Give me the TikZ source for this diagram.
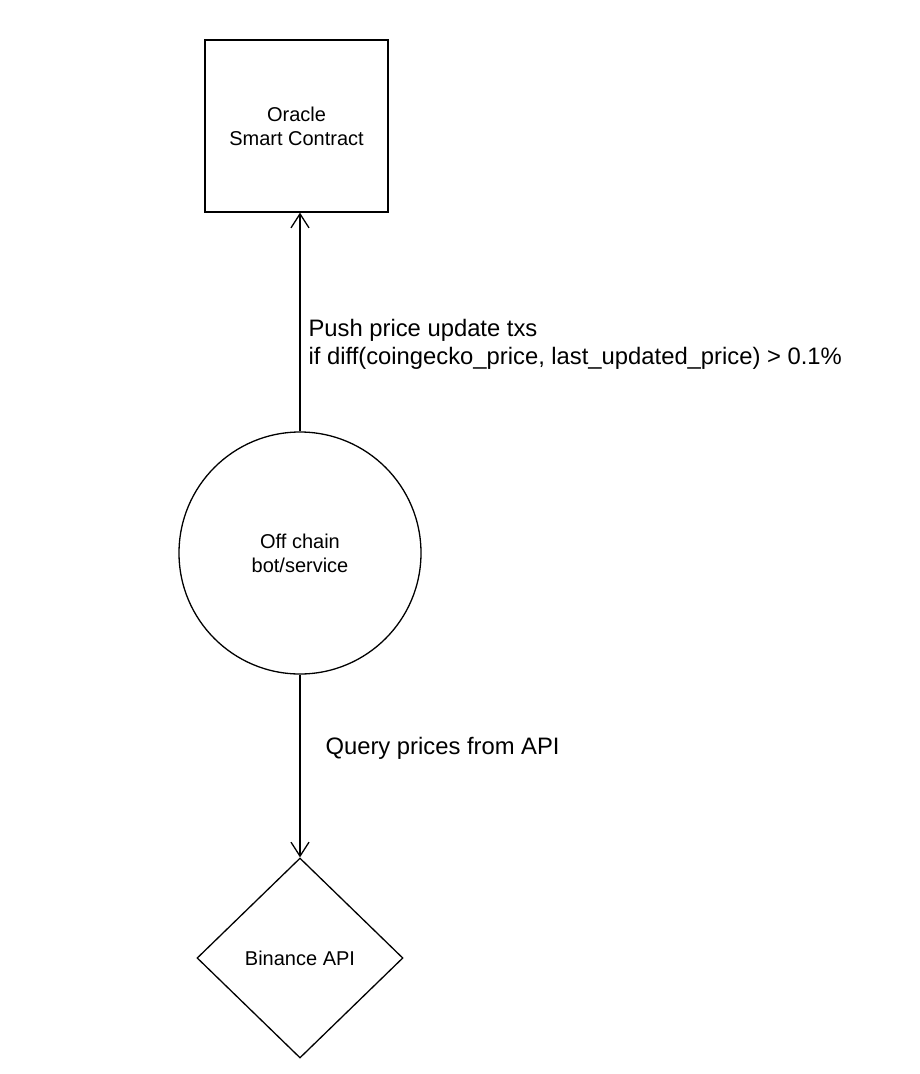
\documentclass[tikz,border=0pt]{standalone}
\usepackage{fontspec}
\setmainfont{Liberation Sans}
\usetikzlibrary{arrows.meta,shapes.geometric}
\begin{document}
\begin{tikzpicture}[x=1pt,y=-1pt,
  box/.style={draw,line width=1.3pt,minimum width=183pt,minimum height=172pt,align=center,font=\fontsize{20}{24}\selectfont},
  circ/.style={draw,circle,line width=1.3pt,minimum size=242pt,align=center,font=\fontsize{20}{24}\selectfont},
  dia/.style={draw,diamond,line width=1.3pt,minimum width=206pt,minimum height=200pt,inner sep=0pt,font=\fontsize{20}{24}\selectfont},
  lbl/.style={anchor=west,align=left,font=\fontsize{23.8}{28}\selectfont},
  conn/.style={line width=1.3pt,-{Straight Barb[length=14pt,width=18pt]}}]
\useasboundingbox (0,0) rectangle (920,1074);
\node[box] (oracle) at (296.5,126) {Oracle\\Smart Contract};
\node[circ] (bot) at (300,553) {Off chain\\bot/service};
\node[dia] (api) at (300,958) {Binance API};
\draw[conn] (bot.north) -- (bot.north |- oracle.south);
\draw[conn] (bot.south) -- (api.north);
\node[lbl] (l1) at (305,344) {Push price update txs\\if diff(coingecko\_price, last\_updated\_price) > 0.1\%};
\node[lbl] (l2) at (322,748) {Query prices from API};
\end{tikzpicture}
\end{document}
